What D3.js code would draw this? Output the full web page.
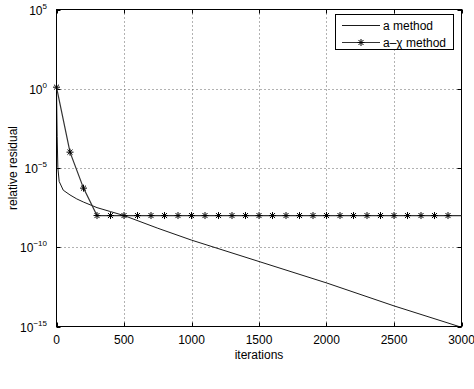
<!DOCTYPE html>
<html>
<head>
<meta charset="utf-8">
<script src="https://cdn.jsdelivr.net/npm/d3@7"></script>
<style>
  body { margin: 0; background: #fff; }
  svg { display: block; font-family: "Liberation Sans", Arial, sans-serif; }
</style>
</head>
<body>
<svg id="chart" width="474" height="389"></svg>
<script>
// a method: iteration / log10(relative residual)
const aIter = [0, 5, 10, 20, 50, 100, 150, 200, 300, 400, 500, 750, 1000, 1500, 2000, 2500, 3000];
const aLog  = [0, -3, -4.98, -5.85, -6.4, -6.7, -6.95, -7.15, -7.5, -7.75, -8.0, -8.8, -9.55, -10.9, -12.25, -13.7, -15.05];

// a-chi method, markers every 100 iterations
const chiIter = [0, 100, 200, 300, 400, 500, 600, 700, 800, 900, 1000, 1100, 1200, 1300, 1400, 1500,
                 1600, 1700, 1800, 1900, 2000, 2100, 2200, 2300, 2400, 2500, 2600, 2700, 2800, 2900, 3000];
const chiLog  = [0.1, -4.0, -6.27, -8.0, -8.0, -8.0, -8.0, -8.0, -8.0, -8.0, -8.0, -8.0, -8.0, -8.0, -8.0, -8.0,
                 -8.0, -8.0, -8.0, -8.0, -8.0, -8.0, -8.0, -8.0, -8.0, -8.0, -8.0, -8.0, -8.0, -8.0, -8.0];
const chiMarked = 30; // the last point (3000) carries no marker

const xTicks = [0, 500, 1000, 1500, 2000, 2500, 3000];
const yTickExp = [5, 0, -5, -10, -15];
const legendLabels = ["a method", "a\u2013\u03c7 method"];

const svg = d3.select("#chart");
const L = 56.5, R = 461.5, T = 9.5, B = 326.5;

let x = d3.scaleLinear().domain([0, 3000]).range([L, R]);
let y = d3.scaleLog().domain([1e-15, 1e5]).range([B, T]);

// grid
const grid = svg.append("g").attr("stroke", "#000").attr("stroke-width", 1)
    .attr("stroke-dasharray", "1,3").attr("opacity", 0.6);
grid.selectAll("line.gx").data(xTicks.slice(1, -1)).enter().append("line")
    .attr("x1", d => Math.round(x(d)) + 0.5).attr("x2", d => Math.round(x(d)) + 0.5)
    .attr("y1", T).attr("y2", B);
grid.selectAll("line.gy").data(yTickExp.slice(1, -1)).enter().append("line")
    .attr("y1", d => Math.round(y(Math.pow(10, d))) + 0.5).attr("y2", d => Math.round(y(Math.pow(10, d))) + 0.5)
    .attr("x1", L).attr("x2", R);

// frame
svg.append("rect").attr("x", L).attr("y", T).attr("width", R - L).attr("height", B - T)
    .attr("fill", "none").attr("stroke", "#000").attr("stroke-width", 1);

// ticks (inside, on all four sides)
const ticks = svg.append("g").attr("stroke", "#000").attr("stroke-width", 1);
xTicks.forEach(t => {
    let px = Math.round(x(t)) + 0.5;
    ticks.append("line").attr("x1", px).attr("x2", px).attr("y1", B).attr("y2", B - 4);
    ticks.append("line").attr("x1", px).attr("x2", px).attr("y1", T).attr("y2", T + 4);
});
yTickExp.forEach(e => {
    let py = Math.round(y(Math.pow(10, e))) + 0.5;
    ticks.append("line").attr("x1", L).attr("x2", L + 4).attr("y1", py).attr("y2", py);
    ticks.append("line").attr("x1", R).attr("x2", R - 4).attr("y1", py).attr("y2", py);
});

// tick labels
svg.append("g").selectAll("text").data(xTicks).enter().append("text")
    .attr("x", d => x(d)).attr("y", B + 17).attr("text-anchor", "middle")
    .attr("font-size", 12).text(d => d);

const yl = svg.append("g").selectAll("text").data(yTickExp).enter().append("text")
    .attr("x", 47).attr("y", d => y(Math.pow(10, d)) + 5).attr("text-anchor", "end")
    .attr("font-size", 12);
yl.append("tspan").text("10");
yl.append("tspan").attr("dy", -6).attr("font-size", 8).text(d => d < 0 ? "\u2212" + (-d) : d);

// axis titles
svg.append("text").attr("x", (L + R) / 2).attr("y", 359).attr("text-anchor", "middle")
    .attr("font-size", 12).text("iterations");
svg.append("text").attr("transform", "translate(17," + (T + B) / 2 + ") rotate(-90)")
    .attr("text-anchor", "middle").attr("font-size", 12).text("relative residual");

// series
const line = d3.line().x(d => x(d[0])).y(d => y(Math.pow(10, d[1])));
const aData = aIter.map((t, i) => [t, aLog[i]]);
const chiData = chiIter.map((t, i) => [t, chiLog[i]]);

svg.append("path").attr("d", line(aData)).attr("fill", "none")
    .attr("stroke", "#000").attr("stroke-width", 0.9);
svg.append("path").attr("d", line(chiData)).attr("fill", "none")
    .attr("stroke", "#333").attr("stroke-width", 1.2);

function star(g, cx, cy, r) {
    const s = r * 0.72;
    g.append("path")
        .attr("d", `M${cx - r},${cy}L${cx + r},${cy}M${cx},${cy - r}L${cx},${cy + r}` +
                   `M${cx - s},${cy - s}L${cx + s},${cy + s}M${cx - s},${cy + s}L${cx + s},${cy - s}`)
        .attr("stroke", "#000").attr("stroke-width", 1).attr("fill", "none");
}
const mk = svg.append("g");
chiData.slice(0, chiMarked).forEach(d => star(mk, x(d[0]), y(Math.pow(10, d[1])), 3.5));

// legend
const lg = svg.append("g");
lg.append("rect").attr("x", 335.5).attr("y", 14.5).attr("width", 118).attr("height", 35)
    .attr("fill", "#fff").attr("stroke", "#000").attr("stroke-width", 1);
lg.append("line").attr("x1", 342).attr("x2", 380).attr("y1", 25.5).attr("y2", 25.5)
    .attr("stroke", "#000").attr("stroke-width", 0.9);
lg.append("line").attr("x1", 342).attr("x2", 380).attr("y1", 42.5).attr("y2", 42.5)
    .attr("stroke", "#333").attr("stroke-width", 1.2);
star(lg, 361, 42.5, 3.5);
lg.selectAll("text").data(legendLabels).enter().append("text")
    .attr("x", 383).attr("y", (d, i) => 29.5 + i * 17).attr("font-size", 12).text(d => d);
</script>
</body>
</html>
